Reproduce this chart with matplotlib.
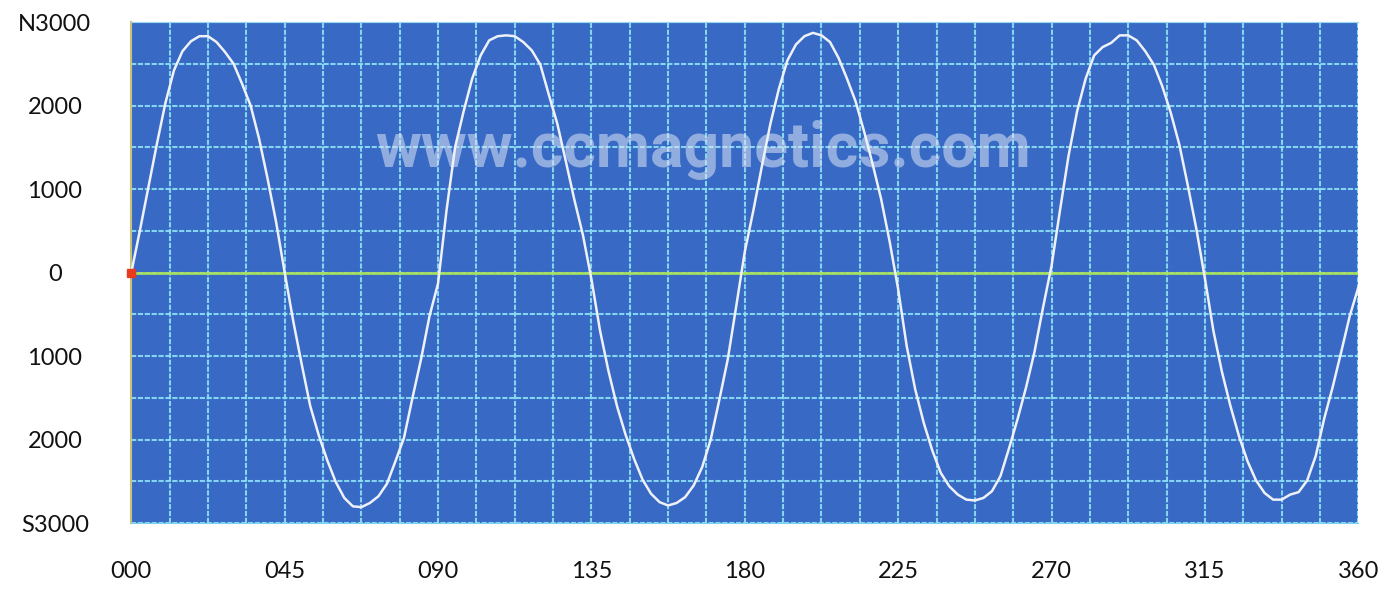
import matplotlib
matplotlib.use("Agg")
import matplotlib.pyplot as plt
from matplotlib.ticker import MultipleLocator

# ==============================
# DATA
# ==============================
angle_deg = [
    0, 2.5, 5, 7.5, 10, 12.5, 15, 17.5, 20, 22.5, 25, 27.5, 30, 32.5, 35, 37.5, 40, 42.5, 45,
    47.5, 50, 52.5, 55, 57.5, 60, 62.5, 65, 67.5, 70, 72.5, 75, 77.5, 80, 82.5, 85, 87.5, 90,
    92.5, 95, 97.5, 100, 102.5, 105, 107.5, 110, 112.5, 115, 117.5, 120, 122.5, 125, 127.5, 130, 132.5, 135,
    137.5, 140, 142.5, 145, 147.5, 150, 152.5, 155, 157.5, 160, 162.5, 165, 167.5, 170, 172.5, 175, 177.5, 180,
    182.5, 185, 187.5, 190, 192.5, 195, 197.5, 200, 202.5, 205, 207.5, 210, 212.5, 215, 217.5, 220, 222.5, 225,
    227.5, 230, 232.5, 235, 237.5, 240, 242.5, 245, 247.5, 250, 252.5, 255, 257.5, 260, 262.5, 265, 267.5, 270,
    272.5, 275, 277.5, 280, 282.5, 285, 287.5, 290, 292.5, 295, 297.5, 300, 302.5, 305, 307.5, 310, 312.5, 315,
    317.5, 320, 322.5, 325, 327.5, 330, 332.5, 335, 337.5, 340, 342.5, 345, 347.5, 350, 352.5, 355, 357.5, 360,
]

field_gauss = [
    0, 500, 1020, 1540, 2030, 2420, 2650, 2770, 2830, 2830, 2760, 2640, 2500, 2260, 2000, 1600, 1120, 600, 0,
    -580, -1100, -1600, -1950, -2250, -2510, -2700, -2800, -2810, -2760, -2680, -2530, -2260, -1980, -1500, -1040, -520, -130,
    750, 1500, 1930, 2320, 2600, 2780, 2830, 2840, 2830, 2760, 2660, 2490, 2130, 1780, 1330, 870, 450, -80,
    -690, -1180, -1600, -1940, -2230, -2480, -2650, -2750, -2790, -2760, -2690, -2550, -2330, -2000, -1530, -1040, -400, 250,
    740, 1270, 1780, 2200, 2540, 2730, 2830, 2870, 2840, 2760, 2570, 2320, 2050, 1690, 1300, 880, 370, -200,
    -880, -1400, -1800, -2130, -2400, -2560, -2660, -2720, -2730, -2700, -2620, -2440, -2110, -1760, -1380, -950, -420, 80,
    750, 1400, 1930, 2320, 2600, 2700, 2750, 2840, 2840, 2780, 2650, 2490, 2230, 1910, 1530, 1040, 520, -70,
    -700, -1190, -1600, -1960, -2260, -2490, -2640, -2720, -2720, -2660, -2630, -2490, -2200, -1750, -1370, -950, -520, -180,
]

x_ticks = [0, 45, 90, 135, 180, 225, 270, 315, 360]
x_labels = ["000", "045", "090", "135", "180", "225", "270", "315", "360"]
y_ticks = [3000, 2000, 1000, 0, -1000, -2000, -3000]
y_labels = ["N3000", "2000", "1000", "0", "1000", "2000", "S3000"]

# ==============================
# STYLE
# ==============================
bg_blue = "#3769c5"
grid_cyan = "#8ee2f6"
trace_white = "#eef1f8"
zero_green = "#a9e15a"

fig = plt.figure(figsize=(14, 6.13), dpi=100)
ax = fig.add_axes([0.0938, 0.1468, 0.8764, 0.8173])
ax.set_facecolor(bg_blue)

ax.set_xlim(0, 360)
ax.set_ylim(-3000, 3000)

# grid: 11.25 deg x 500 steps
ax.xaxis.set_major_locator(MultipleLocator(45))
ax.xaxis.set_minor_locator(MultipleLocator(11.25))
ax.yaxis.set_minor_locator(MultipleLocator(500))
ax.set_xticks(x_ticks)
ax.set_xticklabels(x_labels)
ax.set_yticks(y_ticks)
ax.set_yticklabels(y_labels)
ax.grid(which="both", color=grid_cyan, linewidth=1.5, linestyle=(0, (2.5, 0.8)), alpha=0.9)
ax.set_axisbelow(True)

ax.tick_params(which="both", length=0)
ax.tick_params(axis="x", pad=27, labelsize=17, labelcolor="#111111")
ax.tick_params(axis="y", pad=55, labelsize=17, labelcolor="#111111")
for lab in ax.get_yticklabels():
    lab.set_horizontalalignment("center")
for lab in ax.get_xticklabels() + ax.get_yticklabels():
    lab.set_family(["Lato", "DejaVu Sans"])

ax.spines["left"].set_color("#c9c27a")
ax.spines["left"].set_linewidth(1.5)
ax.spines["top"].set_color("#9ad8ee")
ax.spines["bottom"].set_color("#7fd0ee")
ax.spines["right"].set_visible(False)

# watermark
ax.text(0.466, 0.711, "www.ccmagnetics.com", transform=ax.transAxes,
        ha="center", va="baseline", fontsize=45, fontweight="bold",
        family=["Roboto", "DejaVu Sans"], color="#dde4f4", alpha=0.55, zorder=2)

# zero line and trace
ax.axhline(0, color=zero_green, linewidth=1.9, zorder=3)
ax.plot(angle_deg, field_gauss, color=trace_white, linewidth=1.8, zorder=4)
ax.plot([angle_deg[0]], [field_gauss[0]], marker="s", markersize=6,
        color="#e83a1c", clip_on=False, zorder=5)

fig.savefig("out.png", dpi=100)
